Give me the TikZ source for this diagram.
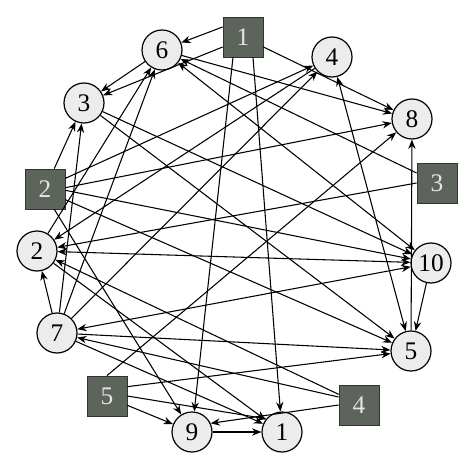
\documentclass[tikz,border=0pt]{standalone}
\usepackage{fontspec}
\setmainfont{Liberation Serif}
\usetikzlibrary{arrows.meta}
\definecolor{sqfill}{HTML}{5D645B}
\definecolor{cifill}{HTML}{ECECEC}
\begin{document}
\begin{tikzpicture}[x=0.75pt,y=-0.75pt,
  cnode/.style={circle,draw=black,line width=0.9pt,fill=cifill,minimum size=30pt,inner sep=0pt,font=\fontsize{19}{22}\selectfont},
  snode/.style={rectangle,draw=black!80,line width=0.6pt,fill=sqfill,minimum size=30pt,inner sep=0pt,text=white!90!black,font=\fontsize{19}{22}\selectfont},
  ed/.style={-{Stealth[length=7pt,width=5.5pt]},line width=0.8pt,black},
  bd/.style={{Stealth[length=7pt,width=5.5pt]}-{Stealth[length=7pt,width=5.5pt]},line width=0.8pt,black}]
\useasboundingbox (0,0) rectangle (474,470);
% circles
\node[cnode] (c6) at (162,50) {6};
\node[cnode] (c3) at (84,103) {3};
\node[cnode] (c4) at (332,57) {4};
\node[cnode] (c8) at (412,119) {8};
\node[cnode] (c2) at (37,251) {2};
\node[cnode] (c7) at (57,333) {7};
\node[cnode] (c9) at (192,432) {9};
\node[cnode] (c10) at (431,263) {10};
\node[cnode] (c5) at (411,351) {5};
\node[cnode] (c1) at (282,432) {1};
% squares
\node[snode] (s1) at (243,37) {1};
\node[snode] (s2) at (45,189) {2};
\node[snode] (s3) at (437,183) {3};
\node[snode] (s5) at (107,396) {5};
\node[snode] (s4) at (359,405) {4};
% edges from squares
\draw[ed] ([yshift=7.5pt]s1.west) -- (c6);
\draw[ed] ([yshift=-7.5pt]s1.west) -- (c3);
\draw[ed] ([xshift=-7.5pt]s1.south) -- (c9);
\draw[ed] ([xshift=7.5pt]s1.south) -- (c1);
\draw[ed] ([yshift=-7.5pt]s1.east) -- (c8);
\draw[ed] (s2) -- (c3);
\draw[ed] ([yshift=8pt]s2.east) -- (c4);
\draw[ed] ([yshift=1pt]s2.east) -- (c8);
\draw[ed] ([yshift=-1pt]s2.east) -- (c10);
\draw[ed] ([yshift=-8pt]s2.east) -- (c5);
\draw[ed] ([xshift=7pt]s2.south) -- (c9);
\draw[ed] ([yshift=7.5pt]s3.west) -- (c6);
\draw[ed] (s3.west) -- (c2);
\draw[ed] (s5.north) -- (c8);
\draw[ed] ([yshift=7pt]s5.east) -- (c5);
\draw[ed] (s5.east) -- (c1.140);
\draw[ed] ([yshift=-7pt]s5.east) -- (c9);
\draw[ed] (s4.west) -- (c9.25);
\draw[ed] ([yshift=8pt]s4.west) -- (c2);
\draw[ed] ([yshift=6pt]s4.west) -- (c7);
% edges between circles
\draw[ed] (c6) -- (c3);
\draw[ed] (c6) -- (c8);
\draw[bd] (c6) -- (c10);
\draw[ed] (c2) -- (c6);
\draw[ed] (c7) -- (c6);
\draw[ed] (c7) -- (c3);
\draw[ed] (c7) -- (c4);
\draw[ed] (c7) -- (c2);
\draw[ed] (c4) -- (c2);
\draw[ed] (c3) -- (c10);
\draw[ed] (c3) -- (c5);
\draw[bd] (c2) -- (c10);
\draw[bd] (c7) -- (c10);
\draw[ed] (c7) -- (c5);
\draw[ed] (c7) -- (c1);
\draw[ed] (c9) -- (c1);
\draw[ed] (c2) -- (c1);
\draw[bd] (c5) -- (c4);
\draw[ed] (c5) -- (c8);
\draw[ed] (c10) -- (c5);
\end{tikzpicture}
\end{document}
